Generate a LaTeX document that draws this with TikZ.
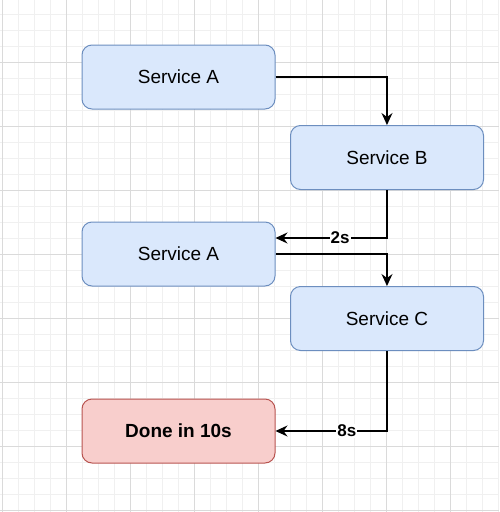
\documentclass[tikz,border=0pt]{standalone}
\usepackage{fontspec}
\setmainfont{Liberation Sans}
\usetikzlibrary{arrows.meta}
\definecolor{gridminor}{HTML}{F0F0F0}
\definecolor{gridmajor}{HTML}{DADADA}
\definecolor{bluefill}{HTML}{DAE8FC}
\definecolor{bluedraw}{HTML}{6C8EBF}
\definecolor{redfill}{HTML}{F8CECC}
\definecolor{reddraw}{HTML}{B85450}
\tikzset{
  svc/.style={draw=bluedraw, fill=bluefill, line width=1pt, rounded corners=10pt,
    minimum width=193pt, minimum height=64pt, inner sep=0pt,
    font=\fontsize{19}{22}\selectfont},
  donebox/.style={draw=reddraw, fill=redfill, line width=1pt, rounded corners=10pt,
    minimum width=193pt, minimum height=64pt, inner sep=0pt,
    font=\fontsize{19}{22}\selectfont\bfseries},
  conn/.style={line width=1.3pt, -{Stealth[length=12pt,width=11pt,inset=4pt]}},
  lbl/.style={fill=white, inner sep=1pt, font=\fontsize{17}{20}\selectfont\bfseries}
}
\begin{document}
\begin{tikzpicture}[x=1pt,y=-1pt]
\useasboundingbox (0,0) rectangle (499,512);
\fill[white] (0,0) rectangle (499,512);
% grid
\foreach \i in {0,...,31} {
  \draw[gridminor, line width=0.8pt] ({2+16*\i},0) -- ({2+16*\i},512);
}
\foreach \i in {0,...,31} {
  \draw[gridminor, line width=0.8pt] (0,{14+16*\i}) -- (499,{14+16*\i});
}
\foreach \i in {0,...,7} {
  \draw[gridmajor, line width=0.8pt] ({2+64*\i},0) -- ({2+64*\i},512);
  \draw[gridmajor, line width=0.8pt] (0,{-2+64*\i}) -- (499,{-2+64*\i});
}
\draw[gridmajor, line width=0.8pt] (0,510) -- (499,510);
% nodes
\node[svc] (a1) at (178.5,77) {Service A};
\node[svc] (b) at (387,157.5) {Service B};
\node[svc] (a2) at (178.5,254) {Service A};
\node[svc] (c) at (387,318.5) {Service C};
\node[donebox] (done) at (178.5,431) {Done in 10s};
% connectors
\draw[conn] (a1.east) -| (b.north);
\draw[conn] (b.south) |- node[lbl, pos=0.71] {2s} ([yshift=16pt]a2.east);
\draw[conn] (a2.east) -| (c.north);
\draw[conn] (c.south) |- node[lbl, pos=0.68] {8s} (done.east);
\end{tikzpicture}
\end{document}
